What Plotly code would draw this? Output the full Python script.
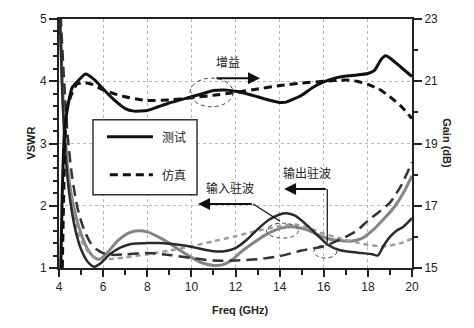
import plotly.graph_objects as go

# ---- Gain (dB), right axis ----
gain_meas_f = [4.08, 4.15, 4.25, 4.4, 4.6, 4.85, 5.2, 5.6, 6.0, 6.5, 7.0, 7.4, 8.0, 8.5, 9.0,
               9.5, 10.0, 10.5, 11.0, 11.5, 12.0, 12.5, 13.0, 13.5, 14.0, 14.3, 15.0, 15.5,
               16.0, 16.5, 17.0, 17.5, 18.0, 18.3, 18.6, 18.8, 19.0, 19.5, 20.0]
gain_meas = [15.0, 17.5, 19.4, 20.2, 20.8, 21.0, 21.23, 21.05, 20.75, 20.4, 20.12, 20.04, 20.06,
             20.18, 20.3, 20.4, 20.5, 20.6, 20.7, 20.72, 20.68, 20.6, 20.5, 20.4, 20.32, 20.33,
             20.55, 20.8, 20.98, 21.1, 21.17, 21.2, 21.25, 21.35, 21.7, 21.82, 21.75, 21.45, 21.15]

gain_sim_f = [4.15, 4.25, 4.35, 4.55, 4.8, 5.1, 5.5, 6.0, 6.5, 7.0, 7.5, 8.0, 9.0, 10.0, 11.0,
              12.0, 13.0, 14.0, 15.0, 16.0, 17.0, 17.5, 18.0, 18.5, 19.0, 19.5, 20.0]
gain_sim = [15.0, 18.5, 20.1, 20.55, 20.9, 20.96, 20.9, 20.72, 20.6, 20.5, 20.43, 20.38, 20.4,
            20.47, 20.55, 20.64, 20.75, 20.86, 20.94, 21.0, 21.04, 21.0, 20.9, 20.75, 20.5,
            20.2, 19.8]

# ---- VSWR, left axis ----
in_meas_f = [4.0, 4.15, 4.3, 4.5, 4.75, 5.0, 5.3, 5.6, 5.85, 6.2, 6.7, 7.2, 7.6, 8.0, 8.5, 9.0,
             9.5, 10.0, 10.5, 11.0, 11.4, 11.8, 12.3, 12.8, 13.3, 13.8, 14.3, 14.7, 15.2, 15.7,
             16.2, 16.7, 17.2, 17.7, 18.2, 18.7, 19.2, 19.6, 20.0]
in_meas = [5.6, 4.0, 3.0, 2.3, 1.85, 1.55, 1.3, 1.17, 1.14, 1.25, 1.45, 1.57, 1.6, 1.58, 1.5, 1.4,
           1.28, 1.17, 1.08, 1.04, 1.05, 1.12, 1.27, 1.4, 1.52, 1.61, 1.66, 1.66, 1.62, 1.54,
           1.47, 1.44, 1.43, 1.47, 1.6, 1.78, 1.98, 2.2, 2.48]

out_meas_f = [4.0, 4.15, 4.3, 4.5, 4.75, 5.0, 5.3, 5.6, 5.9, 6.3, 6.8, 7.3, 8.0, 8.5, 9.0, 9.5,
              10.0, 10.5, 11.0, 11.5, 12.0, 12.5, 13.0, 13.5, 14.0, 14.3, 14.7, 15.2, 15.7,
              16.2, 16.7, 17.2, 17.7, 18.2, 18.45, 18.7, 19.0, 19.3, 19.6, 20.0]
out_meas = [5.6, 3.8, 2.8, 2.1, 1.6, 1.3, 1.1, 1.02, 1.08, 1.22, 1.33, 1.39, 1.4, 1.4, 1.39,
            1.37, 1.34, 1.3, 1.27, 1.27, 1.32, 1.45, 1.62, 1.77, 1.86, 1.88, 1.84, 1.7, 1.53,
            1.37, 1.29, 1.26, 1.24, 1.22, 1.2, 1.35, 1.5, 1.6, 1.66, 1.8]

in_sim_f = [4.0, 4.15, 4.3, 4.5, 4.75, 5.0, 5.3, 5.6, 6.0, 6.5, 7.0, 8.0, 9.0, 10.0, 11.0, 12.0,
            13.0, 14.0, 14.5, 15.0, 15.5, 16.0, 16.5, 17.0, 17.5, 18.0, 18.5, 19.0, 19.5, 20.0]
in_sim = [5.6, 3.9, 2.9, 2.2, 1.7, 1.45, 1.27, 1.17, 1.14, 1.15, 1.17, 1.22, 1.28, 1.35, 1.43,
          1.51, 1.6, 1.67, 1.7, 1.68, 1.62, 1.55, 1.5, 1.45, 1.41, 1.37, 1.35, 1.36, 1.4, 1.47]

out_sim_f = [4.0, 4.2, 4.4, 4.6, 4.85, 5.1, 5.4, 5.7, 6.0, 6.5, 7.0, 8.0, 9.0, 10.0, 11.0, 12.0,
             13.0, 14.0, 15.0, 16.0, 16.5, 17.0, 17.5, 18.0, 18.5, 19.0, 19.5, 20.0]
out_sim = [5.6, 4.2, 3.1, 2.45, 1.95, 1.65, 1.42, 1.3, 1.24, 1.21, 1.22, 1.24, 1.21, 1.16, 1.12,
           1.12, 1.14, 1.19, 1.28, 1.35, 1.42, 1.5, 1.6, 1.76, 1.9, 2.05, 2.32, 2.7]

x_ticks = [4, 6, 8, 10, 12, 14, 16, 18, 20]
vswr_ticks = [1, 2, 3, 4, 5]
gain_ticks = [15, 17, 19, 21, 23]

CJK = "Noto Sans CJK SC"
LAT = "Liberation Sans, Arial, sans-serif"
SM = 0.7  # spline smoothing

fig = go.Figure()

fig.add_trace(go.Scatter(x=in_meas_f, y=in_meas, mode="lines", yaxis="y",
                         line=dict(color="#858585", width=3, shape="spline", smoothing=SM)))
fig.add_trace(go.Scatter(x=in_sim_f, y=in_sim, mode="lines", yaxis="y",
                         line=dict(color="#9c9c9c", width=2.5, dash="5px,4px",
                                   shape="spline", smoothing=SM)))
fig.add_trace(go.Scatter(x=out_sim_f, y=out_sim, mode="lines", yaxis="y",
                         line=dict(color="#333333", width=2.5, dash="11px,6px",
                                   shape="spline", smoothing=SM)))
fig.add_trace(go.Scatter(x=out_meas_f, y=out_meas, mode="lines", yaxis="y",
                         line=dict(color="#2a2a2a", width=2.5, shape="spline", smoothing=SM)))
fig.add_trace(go.Scatter(x=gain_sim_f, y=gain_sim, mode="lines", yaxis="y2",
                         line=dict(color="#111111", width=3, dash="8px,5px",
                                   shape="spline", smoothing=0.5)))
fig.add_trace(go.Scatter(x=gain_meas_f, y=gain_meas, mode="lines", yaxis="y2",
                         line=dict(color="#111111", width=3, shape="spline", smoothing=0.5)))

tickfont = dict(family=LAT, size=12, color="#222222")
fig.update_layout(
    width=474, height=328,
    margin=dict(l=59, r=62, t=19, b=60),
    paper_bgcolor="white", plot_bgcolor="white",
    showlegend=False,
    xaxis=dict(range=[4, 20], tickvals=x_ticks, ticktext=[str(v) for v in x_ticks],
               ticks="outside", ticklen=7, tickwidth=1.5, tickcolor="#222",
               minor=dict(dtick=1, ticks="outside", ticklen=5, tickwidth=1.5, tickcolor="#222",
                          showgrid=False),
               showline=True, linecolor="#222", linewidth=2, mirror=True,
               showgrid=True, gridcolor="#b8b8b8", griddash="dot", gridwidth=1,
               zeroline=False, tickfont=tickfont),
    yaxis=dict(range=[1, 5], tickvals=vswr_ticks, ticktext=[str(v) for v in vswr_ticks],
               ticks="outside", ticklen=8, tickwidth=1.5, tickcolor="#222",
               minor=dict(dtick=0.2, ticks="outside", ticklen=4, tickwidth=1.5, tickcolor="#222",
                          showgrid=False),
               showline=True, linecolor="#222", linewidth=2,
               showgrid=True, gridcolor="#b8b8b8", griddash="dot", gridwidth=1,
               zeroline=False, tickfont=tickfont),
    yaxis2=dict(range=[15, 23], tickvals=gain_ticks, ticktext=[str(v) for v in gain_ticks],
                overlaying="y", side="right",
                ticks="outside", ticklen=8, tickwidth=1.5, tickcolor="#222",
                minor=dict(dtick=1, ticks="outside", ticklen=4, tickwidth=1.5, tickcolor="#222",
                           showgrid=False),
                showline=True, linecolor="#222", linewidth=2,
                showgrid=False, zeroline=False, tickfont=tickfont),
)

# axis titles
title_font = dict(family=LAT, size=11, color="#222")
fig.add_annotation(text="<b>VSWR</b>", xref="paper", yref="paper", x=-0.082, y=0.5,
                   xanchor="center", yanchor="middle", textangle=-90, showarrow=False,
                   font=title_font)
fig.add_annotation(text="<b>Gain (dB)</b>", xref="paper", yref="paper", x=1.1, y=0.5,
                   xanchor="center", yanchor="middle", textangle=90, showarrow=False,
                   font=title_font)
fig.add_annotation(text="<b>Freq (GHz)</b>", xref="paper", yref="paper", x=0.514, y=-0.17,
                   xanchor="center", yanchor="middle", showarrow=False, font=title_font)

# legend box drawn by hand
fig.add_shape(type="rect", xref="paper", yref="paper", x0=0.0963, x1=0.391, y0=0.294, y1=0.595,
              line=dict(color="#333", width=1.5), fillcolor="white", layer="above")
fig.add_shape(type="line", xref="paper", yref="paper", x0=0.136, x1=0.266, y0=0.527, y1=0.527,
              line=dict(color="#111", width=3), layer="above")
fig.add_shape(type="line", xref="paper", yref="paper", x0=0.144, x1=0.266, y0=0.374, y1=0.374,
              line=dict(color="#111", width=3, dash="8px,5px"), layer="above")
leg_font = dict(family=CJK, size=12, color="#222")
fig.add_annotation(text="测试", xref="paper", yref="paper", x=0.326, y=0.527, showarrow=False,
                   xanchor="center", yanchor="middle", font=leg_font)
fig.add_annotation(text="仿真", xref="paper", yref="paper", x=0.326, y=0.374, showarrow=False,
                   xanchor="center", yanchor="middle", font=leg_font)

# dashed ellipses marking the curve groups
ell = dict(color="#444", width=1, dash="4px,3px")
fig.add_shape(type="circle", xref="x", yref="y", x0=9.94, x1=11.89, y0=3.59, y1=4.05, line=ell)
fig.add_shape(type="circle", xref="x", yref="y", x0=13.41, x1=14.85, y0=1.48, y1=1.72, line=ell)
fig.add_shape(type="circle", xref="x", yref="y", x0=15.56, x1=16.59, y0=1.16, y1=1.37, line=ell)

# arrows with labels
arr = dict(showarrow=True, arrowhead=2, arrowsize=1.2, arrowwidth=2, arrowcolor="#111",
           xref="x", yref="y", axref="x", ayref="y", text="")
fig.add_annotation(x=13.11, y=4.05, ax=11.07, ay=4.05, **arr)
fig.add_annotation(x=10.3, y=2.03, ax=12.8, ay=2.03, **arr)
fig.add_annotation(x=14.2, y=2.27, ax=16.16, ay=2.27, **arr)

fig.add_shape(type="path", xref="x", yref="y", path="M 12.8 2.03 L 14.02 1.75",
              line=dict(color="#111", width=1.2))
fig.add_shape(type="line", xref="x", yref="y", x0=16.16, x1=16.16, y0=2.27, y1=1.41,
              line=dict(color="#111", width=1.2))

lab = dict(showarrow=False, xref="x", yref="y", xanchor="center", yanchor="middle",
           font=dict(family=CJK, size=12, color="#222"))
fig.add_annotation(text="增益", x=11.66, y=4.31, **lab)
fig.add_annotation(text="输入驻波", x=11.75, y=2.3, **lab)
fig.add_annotation(text="输出驻波", x=15.24, y=2.53, **lab)

fig.write_html("out.html")
